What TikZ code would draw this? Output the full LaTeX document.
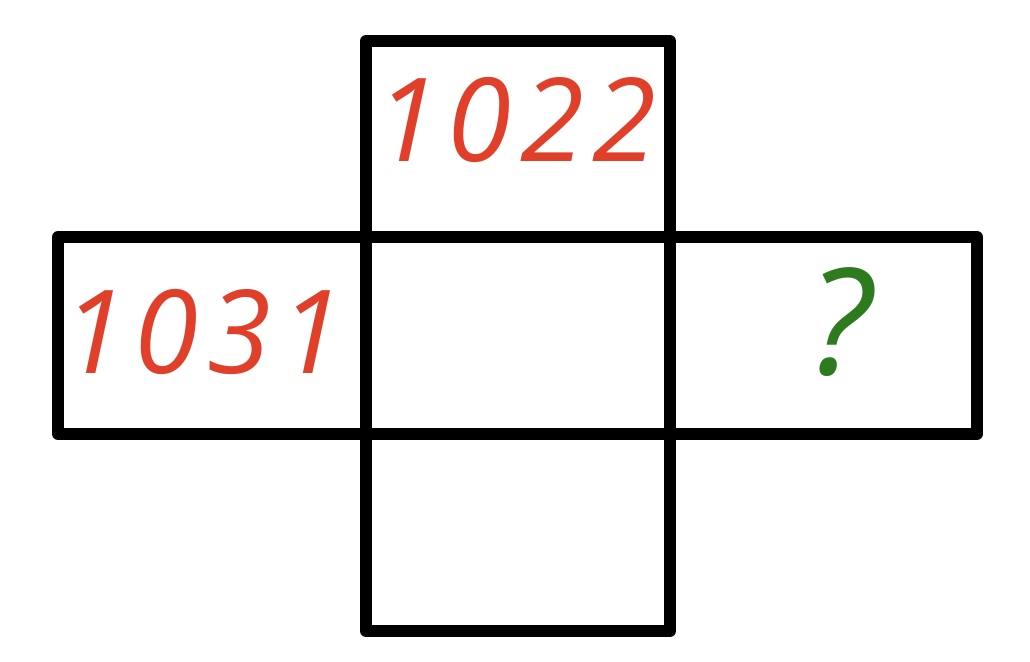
\documentclass[tikz,border=0pt]{standalone}
\usepackage{fontspec}
\setmainfont{Open Sans}
\newfontfamily\spacedfont[LetterSpace=7]{Open Sans}
\definecolor{numred}{HTML}{E0402A}
\definecolor{askgreen}{HTML}{2E7A1E}
\tikzset{
	cell/.style={line width=3.4pt, line join=round},
	num/.style={text=numred, font=\fontsize{33}{40}\spacedfont\itshape},
	ask/.style={text=askgreen, font=\fontsize{42}{48}\selectfont\itshape}
}
\begin{document}
\begin{tikzpicture}[x=0.01cm, y=-0.01cm]
				\useasboundingbox (0, 0) rectangle (1030, 662);

				%%the cross of boxes
				\draw[cell](366, 41) rectangle (670, 237);
				\draw[cell](58, 237) rectangle (366, 434);
				\draw[cell](366, 237) rectangle (670, 434);
				\draw[cell](670, 237) rectangle (977, 434);
				\draw[cell](366, 434) rectangle (670, 631);

				%%the numbers
				\node[num] (top) at (516, 120) {1022};
				\node[num] (left) at (203, 332) {1031};
				\node[ask] (right) at (840, 322) {?};
			\end{tikzpicture}
\end{document}
